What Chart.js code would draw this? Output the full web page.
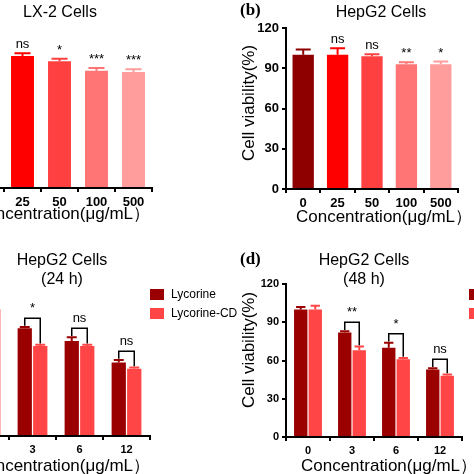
<!DOCTYPE html>
<html><head><meta charset="utf-8">
<script src="https://cdn.jsdelivr.net/npm/chart.js@4"></script>
<style>
body{margin:0;background:#fff;}
#wrap{position:relative;width:474px;height:474px;overflow:hidden;}
canvas{position:absolute;}
.lab{position:absolute;font:bold 17px "Liberation Serif",serif;}
</style></head><body>
<div id="wrap">
<canvas id="ca"></canvas><canvas id="cb"></canvas><canvas id="cc"></canvas><canvas id="cd"></canvas>
<div class="lab" style="left:240px;top:0px">(b)</div>
<div class="lab" style="left:240px;top:249px">(d)</div>
</div>
<script>
// single-series panels (a, b)
const concA = ["0", "25", "50", "100", "500"];
const lx2Vals = [100, 99, 95, 88, 87];
const lx2Err = [2, 2, 2, 2, 2];
const lx2Sig = ["", "ns", "*", "***", "***"];
const hepVals = [100, 100, 99, 93, 93];
const hepErr = [4, 5, 1.5, 1.5, 2];
const hepSig = ["", "ns", "ns", "**", "*"];
const singleColors = ["#8e0000", "#ff0000", "#ff4040", "#ff7474", "#ff9c9c"];

// two-series panels (c, d)
const concC = ["0", "3", "6", "12"];
const lyc24 = [100, 85, 75, 58];
const lyc24Err = [3, 1, 3, 2];
const cds24 = [100, 71, 71, 53];
const cds24Err = [3, 1, 1, 1];
const sig24 = ["", "*", "ns", "ns"];
const lyc48 = [100, 82, 70, 53];
const lyc48Err = [2, 1, 4, 1];
const cds48 = [100, 68, 61, 48];
const cds48Err = [3, 3, 1, 1];
const sig48 = ["", "**", "*", "ns"];
const yTicks = [0, 30, 60, 90, 120];

const F = '"Liberation Sans", Arial, sans-serif';

const overlay = {
  id: "overlay",
  afterDatasetsDraw(chart) {
    const p = chart.options.plugins.overlay;
    const ctx = chart.ctx, x = chart.scales.x, y = chart.scales.y;
    const ox = p.left, oy = p.top;
    ctx.save();
    // error bars (upper half)
    chart.data.datasets.forEach((ds, di) => {
      chart.getDatasetMeta(di).data.forEach((bar, i) => {
        const top = y.getPixelForValue(ds.data[i] + ds.err[i]);
        ctx.strokeStyle = ds.backgroundColor instanceof Array ? ds.backgroundColor[i] : ds.backgroundColor;
        ctx.lineWidth = 2;
        ctx.beginPath(); ctx.moveTo(bar.x, bar.y); ctx.lineTo(bar.x, top);
        ctx.moveTo(bar.x - bar.width * 0.35, top); ctx.lineTo(bar.x + bar.width * 0.35, top); ctx.stroke();
      });
    });
    ctx.strokeStyle = "#000"; ctx.fillStyle = "#000"; ctx.lineWidth = 1.5;
    ctx.textAlign = "center"; ctx.textBaseline = "bottom";
    const sets = chart.data.datasets;
    if (sets.length === 1) {
      ctx.font = "13px " + F;
      p.sig.forEach((s, i) => {
        if (!s) return;
        const px = x.getPixelForValue(i);
        ctx.fillText(s, px, y.getPixelForValue(sets[0].data[i] + sets[0].err[i]) - 2);
      });
    } else {
      p.sig.forEach((s, i) => {
        if (!s) return;
        const b0 = chart.getDatasetMeta(0).data[i], b1 = chart.getDatasetMeta(1).data[i];
        const t0 = sets[0].data[i] + sets[0].err[i], t1 = sets[1].data[i] + sets[1].err[i];
        const hi = y.getPixelForValue(Math.max(t0, t1) + 7);
        ctx.beginPath();
        ctx.moveTo(b0.x, y.getPixelForValue(t0 + 1));
        ctx.lineTo(b0.x, hi); ctx.lineTo(b1.x, hi);
        ctx.lineTo(b1.x, y.getPixelForValue(t1 + 1)); ctx.stroke();
        ctx.font = "13px " + F;
        ctx.fillText(s, (b0.x + b1.x) / 2, hi - 3);
      });
      // legend
      ctx.textAlign = "left"; ctx.textBaseline = "middle"; ctx.font = "12px " + F;
      sets.forEach((ds, di) => {
        const lx = p.legend[0] - ox, ly = p.legend[1] - oy + di * 19;
        ctx.fillStyle = ds.backgroundColor;
        ctx.fillRect(lx, ly, 14, 11);
        ctx.fillStyle = "#000";
        ctx.fillText(ds.label, lx + 21, ly + 6);
      });
    }
    // titles
    ctx.fillStyle = "#000"; ctx.textAlign = "center"; ctx.textBaseline = "middle";
    ctx.font = "16px " + F;
    p.title.forEach((t, k) => ctx.fillText(t, p.titleX - ox, p.titleY - oy + k * 19));
    ctx.font = "17px " + F;
    ctx.fillText("Concentration(μg/mL）", p.xtX - ox, p.xtY - oy);
    ctx.save();
    ctx.translate(249 - ox, p.ytY - oy); ctx.rotate(-Math.PI / 2);
    ctx.font = "17px " + F;
    ctx.fillText("Cell viability(%)", 0, 0);
    ctx.restore();
    ctx.restore();
  }
};

function panel(id, box, plot, labels, datasets, extra, tickSize, bar) {
  const cv = document.getElementById(id);
  cv.style.left = box.left + "px"; cv.style.top = box.top + "px";
  cv.style.width = box.w + "px"; cv.style.height = box.h + "px";
  cv.width = box.w; cv.height = box.h;
  new Chart(cv, {
    type: "bar",
    data: { labels, datasets },
    options: {
      responsive: false, animation: false, devicePixelRatio: 1,
      layout: { padding: { top: plot.top - box.top, right: box.left + box.w - plot.right, left: 0, bottom: 0 } },
      datasets: { bar: bar },
      plugins: {
        legend: { display: false }, tooltip: { enabled: false },
        overlay: Object.assign({ left: box.left, top: box.top }, extra)
      },
      scales: {
        x: {
          afterFit: s => { s.height = box.top + box.h - plot.bottom; },
          grid: { display: true, drawOnChartArea: false, color: "#000", tickLength: 4, lineWidth: 2 },
          border: { color: "#000", width: 2 },
          ticks: { color: "#000", font: { family: F, weight: "bold", size: tickSize } }
        },
        y: {
          min: 0, max: 120,
          afterFit: s => { s.width = plot.left - box.left; },
          afterBuildTicks: s => { s.ticks = yTicks.map(v => ({ value: v })); },
          grid: { display: true, drawOnChartArea: false, color: "#000", tickLength: 4, lineWidth: 2 },
          border: { color: "#000", width: 2 },
          ticks: { color: "#000", font: { family: F, weight: "bold", size: tickSize } }
        }
      }
    },
    plugins: [overlay]
  });
}

const singleBar = { barPercentage: 0.62, categoryPercentage: 1 };
const pairBar = { barPercentage: 0.92, categoryPercentage: 0.66 };

panel("ca", { left: -90, top: 0, w: 258, h: 237 }, { left: -33, right: 152, top: 28, bottom: 188 },
  concA, [{ data: lx2Vals, err: lx2Err, backgroundColor: singleColors }],
  { sig: lx2Sig, title: ["LX-2 Cells"], titleX: 60, titleY: 13, xtX: 62, xtY: 214, ytY: 103 }, 13, singleBar);

panel("cb", { left: 237, top: 0, w: 237, h: 237 }, { left: 286, right: 458, top: 28, bottom: 189 },
  concA, [{ data: hepVals, err: hepErr, backgroundColor: singleColors }],
  { sig: hepSig, title: ["HepG2 Cells"], titleX: 381, titleY: 13, xtX: 384, xtY: 217, ytY: 103 }, 13, singleBar);

panel("cc", { left: -96, top: 237, w: 333, h: 237 }, { left: -38, right: 150, top: 284, bottom: 436 },
  concC, [
    { label: "Lycorine", data: lyc24, err: lyc24Err, backgroundColor: "#9b0000" },
    { label: "Lycorine-CDs", data: cds24, err: cds24Err, backgroundColor: "#ff4545" }],
  { sig: sig24, title: ["HepG2 Cells", "(24 h)"], titleX: 62, titleY: 261, xtX: 62, xtY: 466, ytY: 350, legend: [150, 289] }, 11, pairBar);

panel("cd", { left: 237, top: 237, w: 237, h: 237 }, { left: 286, right: 462, top: 284, bottom: 437 },
  concC, [
    { label: "Lycorine", data: lyc48, err: lyc48Err, backgroundColor: "#9b0000" },
    { label: "Lycorine-CDs", data: cds48, err: cds48Err, backgroundColor: "#ff4545" }],
  { sig: sig48, title: ["HepG2 Cells", "(48 h)"], titleX: 364, titleY: 261, xtX: 389, xtY: 466, ytY: 350, legend: [469, 289] }, 11, pairBar);
</script>
</body></html>
